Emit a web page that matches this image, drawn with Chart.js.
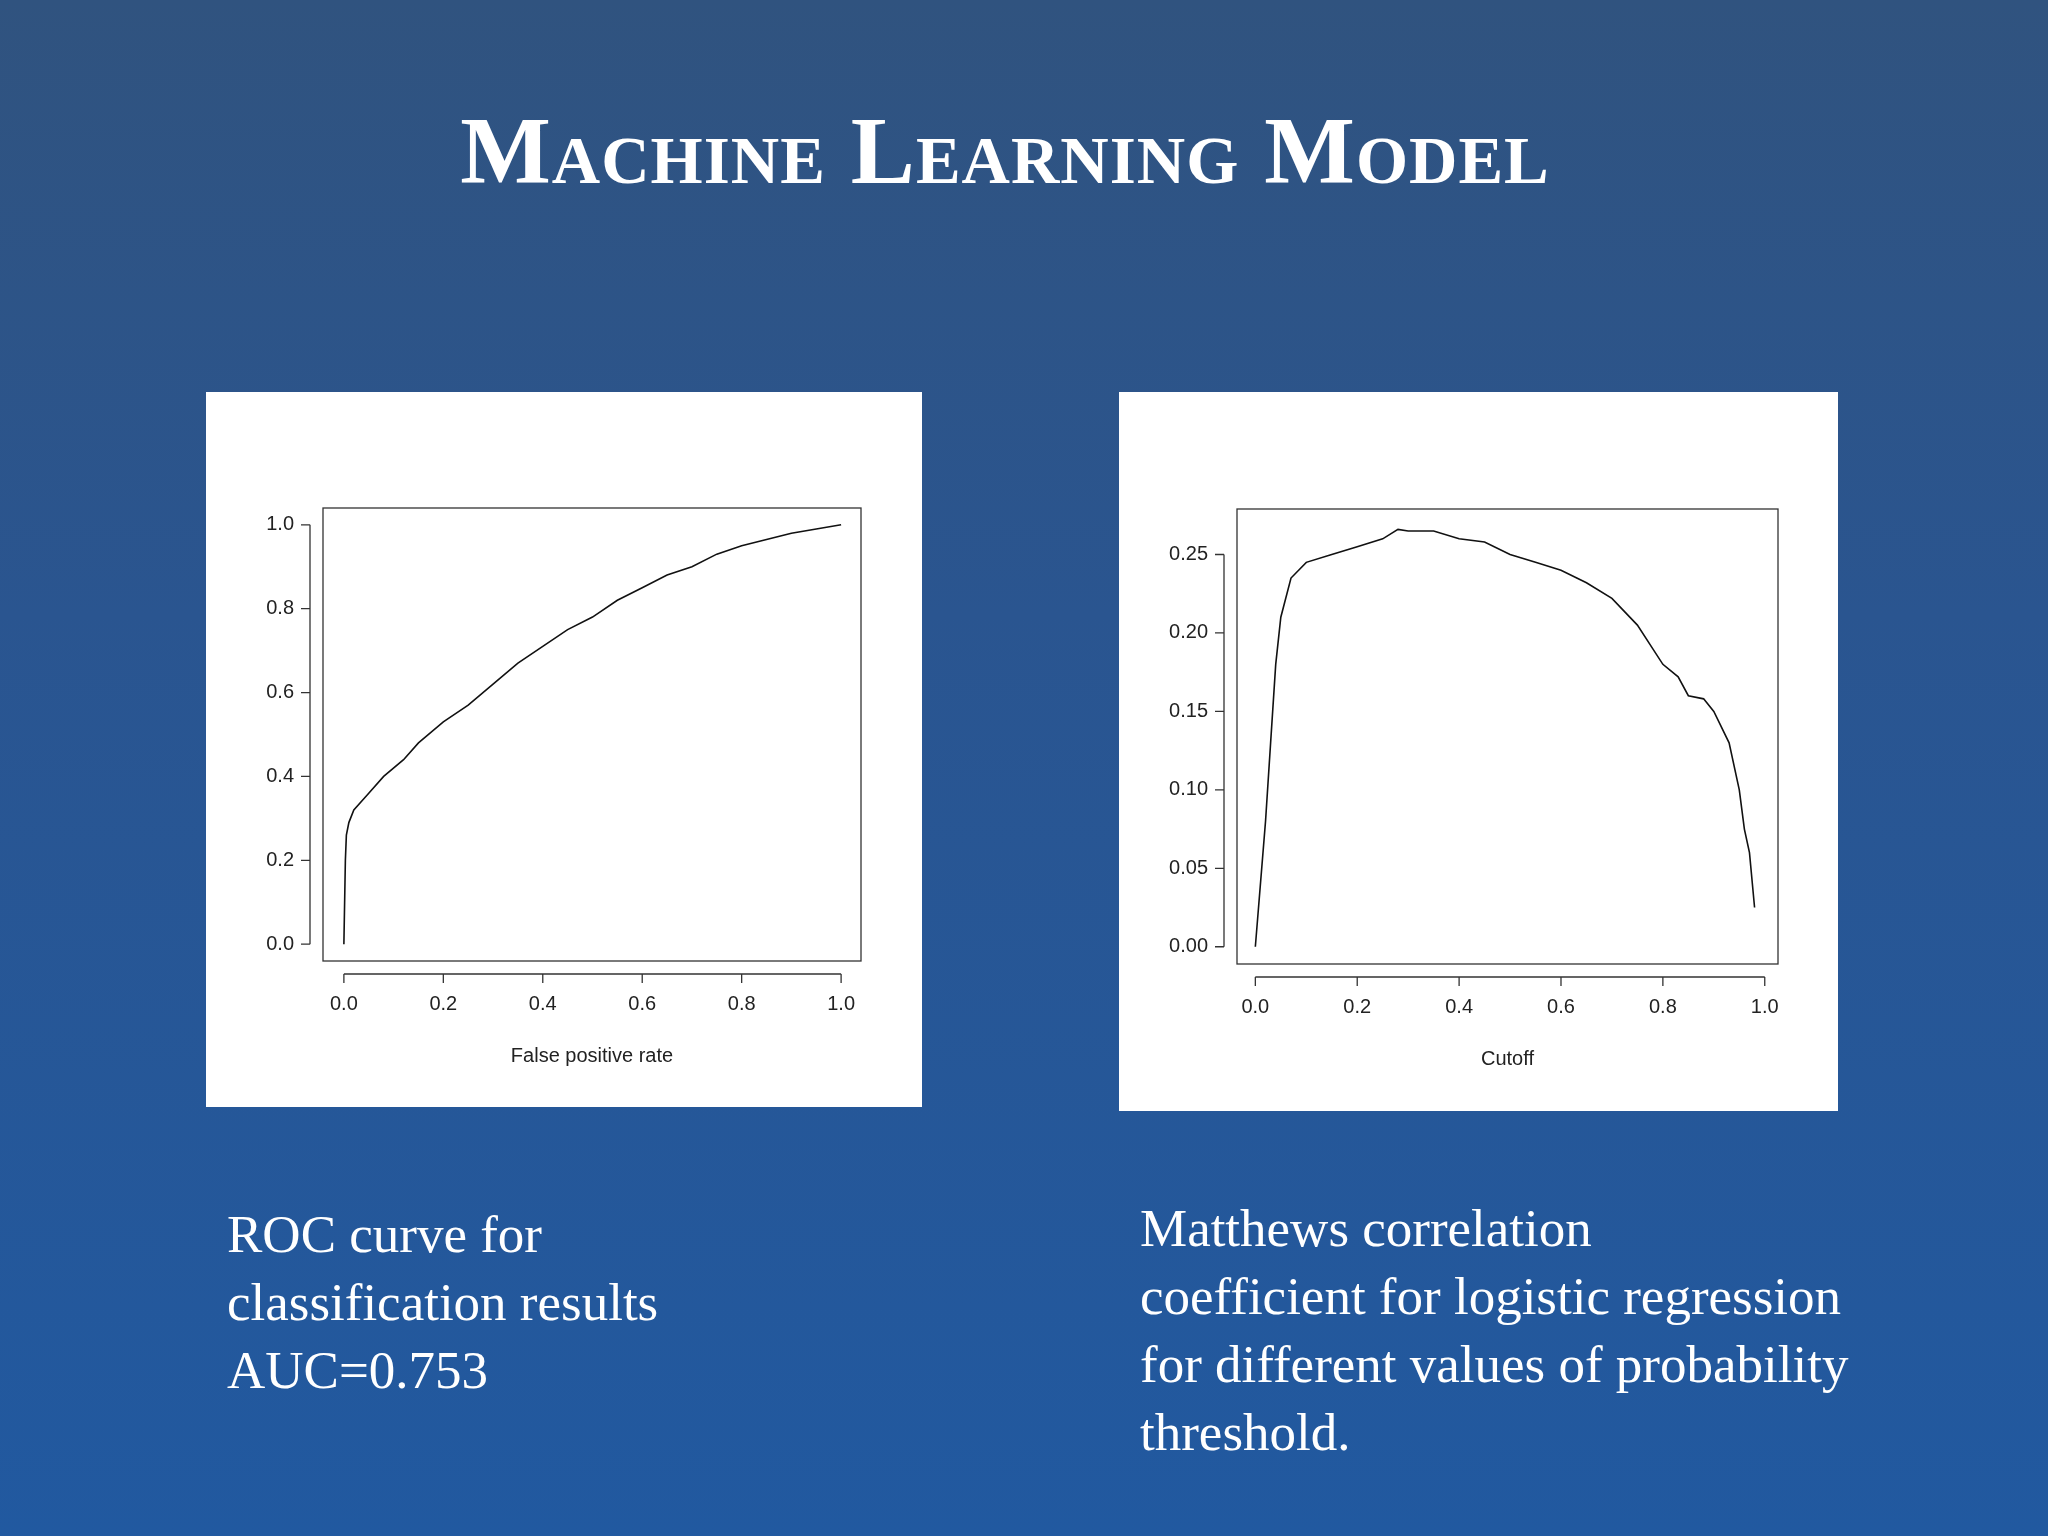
<!DOCTYPE html>
<html><head><meta charset="utf-8">
<script src="https://cdn.jsdelivr.net/npm/chart.js@4"></script>
<style>
html,body{margin:0;padding:0}
body{width:2048px;height:1536px;position:relative;overflow:hidden;background:linear-gradient(180deg,#30537f 0%,#2a5590 40%,#2159a0 100%);font-family:"Liberation Serif",serif;color:#fff}
#title{position:absolute;left:0;width:2010px;top:95px;text-align:center;font-size:96px;font-weight:bold;font-variant:small-caps;letter-spacing:1px}
.panel{position:absolute;background:#fff}
.cap{position:absolute;font-size:53px;line-height:68px}
</style></head><body>
<div id="title">Machine Learning Model</div>
<div class="panel" style="left:206px;top:392px;width:716px;height:715px"><canvas id="c1" width="716" height="715"></canvas></div>
<div class="panel" style="left:1119px;top:392px;width:719px;height:719px"><canvas id="c2" width="719" height="719"></canvas></div>
<div class="cap" style="left:227px;top:1200px">ROC curve for<br>classification results<br>AUC=0.753</div>
<div class="cap" style="left:1140px;top:1194px">Matthews correlation<br>coefficient for logistic regression<br>for different values of probability<br>threshold.</div>
<script>
const rocFpr=[0,0.003,0.005,0.01,0.02,0.05,0.08,0.12,0.15,0.2,0.25,0.3,0.35,0.4,0.45,0.5,0.55,0.6,0.65,0.7,0.75,0.8,0.85,0.9,0.95,1];
const rocTpr=[0,0.2,0.26,0.29,0.32,0.36,0.4,0.44,0.48,0.53,0.57,0.62,0.67,0.71,0.75,0.78,0.82,0.85,0.88,0.9,0.93,0.95,0.965,0.98,0.99,1];
const mccCut=[0,0.01,0.02,0.03,0.04,0.05,0.07,0.1,0.15,0.2,0.25,0.28,0.3,0.35,0.4,0.45,0.5,0.55,0.6,0.65,0.7,0.75,0.78,0.8,0.83,0.85,0.88,0.9,0.93,0.95,0.96,0.97,0.98];
const mccVal=[0,0.04,0.08,0.13,0.18,0.21,0.235,0.245,0.25,0.255,0.26,0.266,0.265,0.265,0.26,0.258,0.25,0.245,0.24,0.232,0.222,0.205,0.19,0.18,0.172,0.16,0.158,0.15,0.13,0.1,0.075,0.06,0.025];
const rocXTicks=[0,0.2,0.4,0.6,0.8,1.0], rocYTicks=[0,0.2,0.4,0.6,0.8,1.0];
const mccXTicks=[0,0.2,0.4,0.6,0.8,1.0], mccYTicks=[0,0.05,0.10,0.15,0.20,0.25];

function rAxes(xT,yT,xDec,yDec,xTitle,yTitle){
 return {id:'raxes',afterDraw(ch){
  const c=ch.ctx,a=ch.chartArea,x=ch.scales.x,y=ch.scales.y;
  c.save();c.strokeStyle='#333';c.lineWidth=1.3;c.fillStyle='#222';
  c.strokeRect(a.left,a.top,a.right-a.left,a.bottom-a.top);
  const ay=a.bottom+13, ax=a.left-13;
  c.beginPath();c.moveTo(x.getPixelForValue(xT[0]),ay);c.lineTo(x.getPixelForValue(xT[xT.length-1]),ay);
  xT.forEach(v=>{const p=x.getPixelForValue(v);c.moveTo(p,ay);c.lineTo(p,ay+9);});
  c.moveTo(ax,y.getPixelForValue(yT[0]));c.lineTo(ax,y.getPixelForValue(yT[yT.length-1]));
  yT.forEach(v=>{const p=y.getPixelForValue(v);c.moveTo(ax,p);c.lineTo(ax-9,p);});
  c.stroke();
  c.font='20px "Liberation Sans",sans-serif';
  c.textAlign='center';c.textBaseline='top';
  xT.forEach(v=>c.fillText(v.toFixed(xDec),x.getPixelForValue(v),ay+20));
  c.textAlign='right';c.textBaseline='middle';
  yT.forEach(v=>c.fillText(v.toFixed(yDec),ax-16,y.getPixelForValue(v)));
  c.textAlign='center';c.textBaseline='top';
  c.fillText(xTitle,(a.left+a.right)/2,ay+72);
  c.translate(a.left-130,(a.top+a.bottom)/2);c.rotate(-Math.PI/2);c.textBaseline='middle';
  c.fillText(yTitle,0,0);
  c.restore();}};
}
function make(id,xs,ys,xr,yr,pad,plug){
 new Chart(document.getElementById(id),{type:'scatter',
  data:{datasets:[{data:xs.map((v,i)=>({x:v,y:ys[i]})),showLine:true,borderColor:'#111',borderWidth:1.6,pointRadius:0,tension:0}]},
  options:{responsive:false,animation:false,layout:{padding:pad},
   plugins:{legend:{display:false},tooltip:{enabled:false}},
   scales:{x:{type:'linear',min:xr[0],max:xr[1],display:false},y:{type:'linear',min:yr[0],max:yr[1],display:false}}},
  plugins:[plug]});
}
make('c1',rocFpr,rocTpr,[-0.042,1.04],[-0.04,1.04],{left:117,top:116,right:61,bottom:146},
 rAxes(rocXTicks,rocYTicks,1,1,'False positive rate','True positive rate'));
const p2=rAxes(mccXTicks,mccYTicks,1,2,'Cutoff','Matthews correlation coefficient');
make('c2',mccCut,mccVal,[-0.036,1.026],[-0.011,0.279],{left:118,top:117,right:60,bottom:147},p2);
</script>
</body></html>
